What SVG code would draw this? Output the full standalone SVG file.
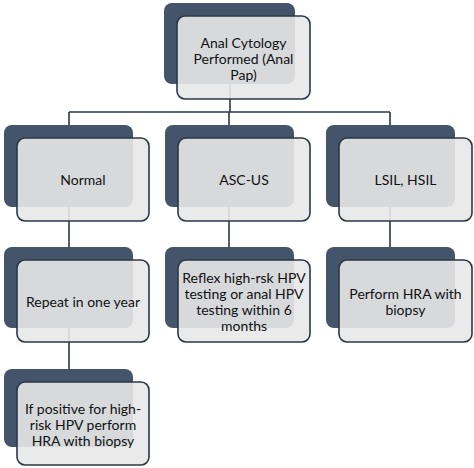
<svg xmlns="http://www.w3.org/2000/svg" width="474" height="468" viewBox="0 0 474 468">
<style>
.back{fill:#44546a;}
.front{fill:#e8e8e8;fill-opacity:0.9;stroke:#2b3746;stroke-width:1.6;}
.lbl{font-family:Lato,"Open Sans","Liberation Sans",sans-serif;font-size:14px;fill:#111111;text-anchor:middle;dominant-baseline:central;}
.conn{stroke:#2b3746;stroke-width:1.6;fill:none;}
</style>
<rect width="474" height="468" fill="#ffffff"/>
<g id="connectors">
<path class="conn" d="M230,84 V112 M69,112 H390 M69,112 V125 M229,112 V125 M390,112 V125"/>
<path class="conn" d="M69,207 V247 M229,207 V247 M390,207 V247 M69,328 V369"/>
</g>
<g id="n-top">
<rect class="back" x="164" y="3" width="131" height="81" rx="8"/>
<rect class="front" x="177" y="16" width="133" height="83" rx="8"/>
<text class="lbl" x="243.5" y="42.5">Anal Cytology</text>
<text class="lbl" x="243.5" y="58.5">Performed (Anal</text>
<text class="lbl" x="243.5" y="74.5">Pap)</text>
</g>
<g id="n-normal">
<rect class="back" x="4" y="125" width="129" height="82" rx="8"/>
<rect class="front" x="17" y="138" width="132" height="83" rx="8"/>
<text class="lbl" x="83" y="179.5">Normal</text>
</g>
<g id="n-ascus">
<rect class="back" x="165" y="125" width="129" height="82" rx="8"/>
<rect class="front" x="178" y="138" width="132" height="83" rx="8"/>
<text class="lbl" x="244" y="179.5">ASC-US</text>
</g>
<g id="n-lsil">
<rect class="back" x="326" y="125" width="129" height="82" rx="8"/>
<rect class="front" x="339" y="138" width="133" height="83" rx="8"/>
<text class="lbl" x="405.5" y="179.5">LSIL, HSIL</text>
</g>
<g id="n-repeat">
<rect class="back" x="4" y="247" width="129" height="81" rx="8"/>
<rect class="front" x="17" y="260" width="132" height="82" rx="8"/>
<text class="lbl" x="83" y="301">Repeat in one year</text>
</g>
<g id="n-reflex">
<rect class="back" x="165" y="247" width="129" height="81" rx="8"/>
<rect class="front" x="178" y="260" width="132" height="82" rx="8"/>
<text class="lbl" x="244" y="277">Reflex high-rsk HPV</text>
<text class="lbl" x="244" y="293">testing or anal HPV</text>
<text class="lbl" x="244" y="309">testing within 6</text>
<text class="lbl" x="244" y="325">months</text>
</g>
<g id="n-perform">
<rect class="back" x="326" y="247" width="129" height="81" rx="8"/>
<rect class="front" x="339" y="260" width="133" height="82" rx="8"/>
<text class="lbl" x="405.5" y="293">Perform HRA with</text>
<text class="lbl" x="405.5" y="309">biopsy</text>
</g>
<g id="n-ifpos">
<rect class="back" x="4" y="369" width="129" height="78" rx="8"/>
<rect class="front" x="17" y="382" width="132" height="83" rx="8"/>
<text class="lbl" x="83" y="408">If positive for high-</text>
<text class="lbl" x="83" y="424">risk HPV perform</text>
<text class="lbl" x="83" y="440">HRA with biopsy</text>
</g>
</svg>
